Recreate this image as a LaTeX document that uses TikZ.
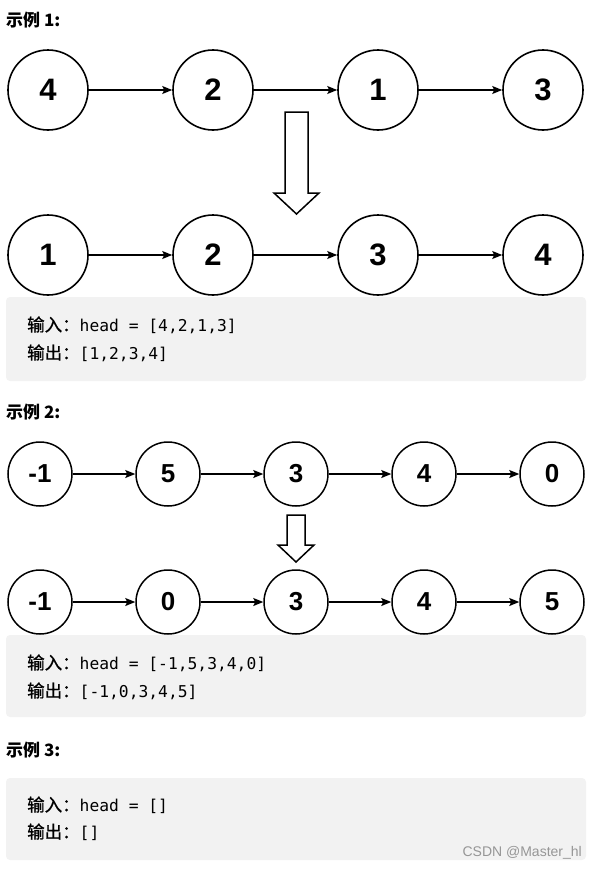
\documentclass[tikz,border=0pt]{standalone}
\usepackage{fontspec}
\setmainfont{Liberation Sans}
\newfontfamily\cjkfont{Noto Sans CJK SC}
\newfontfamily\cjkcode{Noto Sans CJK SC}[FakeBold=0.8]
\newfontfamily\codefont{DejaVu Sans Mono}
\usepackage{tikz}
\usetikzlibrary{positioning, arrows.meta}
\usepackage{xcolor}
\definecolor{boxgray}{RGB}{242,242,242}
\definecolor{marktext}{RGB}{150,150,150}

\newcommand{\inlabel}{{\cjkcode\fontsize{17.5}{17.5}\selectfont 输入：}}
\newcommand{\outlabel}{{\cjkcode\fontsize{17.5}{17.5}\selectfont 输出：}}

\begin{document}
\begin{tikzpicture}[x=1pt, y=-1pt, >={Stealth[inset=2pt,length=10pt,width=8pt]},
    bignode/.style={circle, draw, line width=1.6pt, minimum size=80pt, inner sep=0pt,
        font=\fontsize{31}{31}\selectfont\bfseries},
    smallnode/.style={circle, draw, line width=1.5pt, minimum size=64pt, inner sep=0pt,
        font=\fontsize{26}{26}\selectfont\bfseries},
    title/.style={anchor=west, inner sep=0pt, font=\cjkfont\fontsize{17}{17}\selectfont\bfseries},
    codebox/.style={fill=boxgray, rounded corners=4pt},
    codeline/.style={anchor=west, inner sep=0pt, font=\codefont\fontsize{16.3}{16.3}\selectfont},
    link/.style={->, line width=1.3pt},
    bigarrow/.style={draw, line width=1.5pt, fill=white, line join=miter}]

    \useasboundingbox (0,0) rectangle (596,870);

    % example 1
    \node[title] (t1) at (6,20) {示例 1:};
    \begin{scope}[node distance=83.4pt]
        \node[bignode] (a1) at (48,90) {4};
        \node[bignode] (a2) [right=of a1] {2};
        \node[bignode] (a3) [right=of a2] {1};
        \node[bignode] (a4) [right=of a3] {3};
        \node[bignode] (b1) [below=of a1] {1};
        \node[bignode] (b2) [right=of b1] {2};
        \node[bignode] (b3) [right=of b2] {3};
        \node[bignode] (b4) [right=of b3] {4};
    \end{scope}
    \draw[link] (a1) -- (a2);
    \draw[link] (a2) -- (a3);
    \draw[link] (a3) -- (a4);
    \draw[link] (b1) -- (b2);
    \draw[link] (b2) -- (b3);
    \draw[link] (b3) -- (b4);
    \draw[bigarrow] (285,112) -- (308,112) -- (308,193) -- (319,193) -- (296.5,214)
        -- (274,193) -- (285,193) -- cycle;

    \fill[codebox] (6,297) rectangle (586,381);
    \node[codeline] (in1) at (27,325) {\inlabel head = [4,2,1,3]};
    \node[codeline] (out1) at (27,353) {\outlabel [1,2,3,4]};

    % example 2
    \node[title] (t2) at (6,412) {示例 2:};
    \begin{scope}[node distance=62.5pt]
        \node[smallnode] (c1) at (40,474) {-1};
        \node[smallnode] (c2) [right=of c1] {5};
        \node[smallnode] (c3) [right=of c2] {3};
        \node[smallnode] (c4) [right=of c3] {4};
        \node[smallnode] (c5) [right=of c4] {0};
        \node[smallnode] (d1) [below=of c1] {-1};
        \node[smallnode] (d2) [right=of d1] {0};
        \node[smallnode] (d3) [right=of d2] {3};
        \node[smallnode] (d4) [right=of d3] {4};
        \node[smallnode] (d5) [right=of d4] {5};
    \end{scope}
    \foreach \i/\j in {1/2,2/3,3/4,4/5} {
        \draw[link] (c\i) -- (c\j);
        \draw[link] (d\i) -- (d\j);
    }
    \draw[bigarrow] (287,515) -- (305,515) -- (305,545) -- (314,545) -- (296,562)
        -- (278,545) -- (287,545) -- cycle;

    \fill[codebox] (6,635) rectangle (586,717);
    \node[codeline] (in2) at (27,663) {\inlabel head = [-1,5,3,4,0]};
    \node[codeline] (out2) at (27,691) {\outlabel [-1,0,3,4,5]};

    % example 3
    \node[title] (t3) at (6,750) {示例 3:};
    \fill[codebox] (6,778) rectangle (586,860);
    \node[codeline] (in3) at (27,805) {\inlabel head = []};
    \node[codeline] (out3) at (27,832) {\outlabel []};
    \node[anchor=east, inner sep=0pt, text=marktext, font=\fontsize{14}{14}\selectfont]
        (mark) at (582,853) {CSDN @Master\_hl};
\end{tikzpicture}
\end{document}
